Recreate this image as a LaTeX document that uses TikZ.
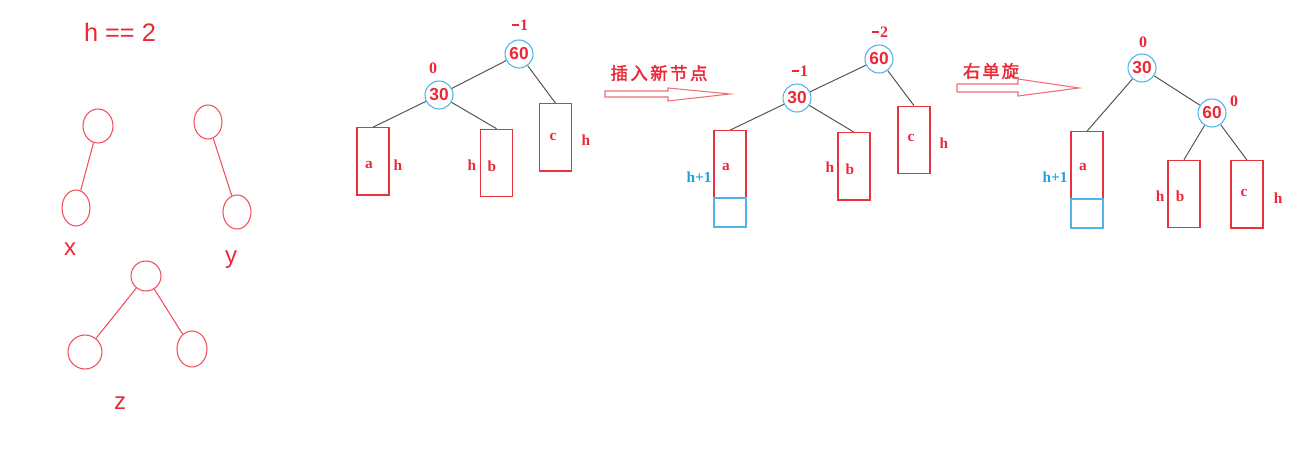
\documentclass[tikz,border=0pt]{standalone}
\usepackage{fontspec}
\setmainfont{Liberation Serif}
\newfontfamily\sansf{Liberation Sans}
\newfontfamily\cjk[FakeBold=2]{Noto Sans CJK SC}
\usetikzlibrary{shapes.geometric}
\pgfdeclarelayer{bg}
\pgfsetlayers{bg,main}
\definecolor{txtred}{RGB}{236,40,56}
\definecolor{boxred}{RGB}{232,50,64}
\definecolor{pinkred}{RGB}{240,80,92}
\definecolor{cblue}{RGB}{80,180,232}
\definecolor{tblue}{RGB}{30,160,226}
\definecolor{edgegray}{RGB}{85,85,85}
\definecolor{arrred}{RGB}{240,110,120}
\tikzset{
  oval/.style={ellipse, draw=pinkred, line width=0.8pt, inner sep=0pt},
  tedge/.style={draw=pinkred, line width=0.8pt},
  bigtxt/.style={text=txtred, font=\sansf\fontsize{19}{19}\selectfont, inner sep=0pt},
  val/.style={circle, draw=cblue, line width=0.8pt, minimum size=21pt, inner sep=0pt,
              text=txtred, font=\sansf\bfseries\fontsize{13}{13}\selectfont},
  sub/.style={rectangle, draw=boxred, line width=1pt, fill=white, minimum width=24pt, minimum height=50.5pt, inner sep=0pt},
  extra/.style={rectangle, draw=cblue, line width=1pt, minimum width=24pt, minimum height=21.75pt, inner sep=0pt},
  lbl/.style={text=txtred, font=\bfseries\fontsize{11.5}{11.5}\selectfont, inner sep=0pt},
  bal/.style={text=txtred, font=\bfseries\fontsize{12}{12}\selectfont, inner sep=0pt},
  hlbl/.style={text=tblue, font=\bfseries\fontsize{11.5}{11.5}\selectfont, inner sep=0pt},
  link/.style={draw=edgegray, line width=0.75pt},
  cjklbl/.style={text=txtred, font=\cjk\fontsize{13}{13}\selectfont, inner sep=0pt},
  blockarrow/.style={draw=arrred, line width=0.8pt, fill=white},
}
\newcommand{\mn}{\raisebox{0.28em}{\rule{0.45em}{0.09em}}\hspace{0.06em}}
\begin{document}
\begin{tikzpicture}[x=0.75pt, y=-0.75pt]
\useasboundingbox (0,0) rectangle (1302,470);
% ---------- left part ----------
\node[bigtxt] (title) at (120,32) {h == 2};
\node[oval, minimum width=22.5pt, minimum height=25.5pt] (xa) at (98,126) {};
\node[oval, minimum width=21pt, minimum height=27pt] (xb) at (76,208) {};
\draw[tedge] (xa) -- (xb);
\node[bigtxt, font=\sansf\fontsize{18}{18}\selectfont] (xl) at (70,249) {x};
\node[oval, minimum width=21pt, minimum height=25.5pt] (ya) at (208,122) {};
\node[oval, minimum width=21pt, minimum height=25.5pt] (yb) at (237,212) {};
\draw[tedge] (ya) -- (yb);
\node[bigtxt, font=\sansf\fontsize{18}{18}\selectfont] (yl) at (231,260) {y};
\node[oval, minimum width=22.5pt, minimum height=22.5pt] (za) at (146,276) {};
\node[oval, minimum width=25.5pt, minimum height=25.5pt] (zb) at (85,352) {};
\node[oval, minimum width=22.5pt, minimum height=27pt] (zc) at (192,349) {};
\draw[tedge] (za) -- (zb);
\draw[tedge] (za) -- (zc);
\node[bigtxt, font=\sansf\fontsize{18}{18}\selectfont] (zl) at (120,403) {z};
% ---------- tree 1 ----------
\node[val] (p60) at (519,54) {60};
\node[val] (p30) at (439,95) {30};
\node[bal] (p60b) at (520,25) {\mn1};
\node[bal] (p30b) at (433,68) {0};
\node[sub] (pa) at (373,161.5) {};
\node[sub] (pb) at (496.5,163) {};
\node[sub] (pc) at (555.5,137.5) {};
\begin{pgfonlayer}{bg}
\draw[link] (p60) -- (p30);
\draw[link] (p30) -- (pa.north);
\draw[link] (p30) -- (pb.north);
\draw[link] (p60) -- (pc.north);
\end{pgfonlayer}
\node[lbl] (pal) at (369,165) {a};
\node[lbl] (pah) at (398,165) {h};
\node[lbl] (pbl) at (492,166) {b};
\node[lbl] (pbh) at (472,165) {h};
\node[lbl] (pcl) at (553,137) {c};
\node[lbl] (pch) at (586,140) {h};
% ---------- arrow 1 ----------
\node[cjklbl] (ins) at (659,73) {插\hspace{1.9pt}入\hspace{1.9pt}新\hspace{1.9pt}节\hspace{1.9pt}点};
\draw[blockarrow] (605,91) -- (668,91) -- (668,88) -- (730,94) -- (668,101) -- (668,97) -- (605,97) -- cycle;
% ---------- tree 2 ----------
\node[val] (q60) at (879,59) {60};
\node[val] (q30) at (797,98) {30};
\node[bal] (q60b) at (880,32) {\mn2};
\node[bal] (q30b) at (800,71) {\mn1};
\node[sub] (qa) at (730,164.5) {};
\node[extra] (qx) at (730,212.5) {};
\node[sub] (qb) at (854,166.5) {};
\node[sub] (qc) at (914,140) {};
\begin{pgfonlayer}{bg}
\draw[link] (q60) -- (q30);
\draw[link] (q30) -- (qa.north);
\draw[link] (q30) -- (qb.north);
\draw[link] (q60) -- (qc.north);
\end{pgfonlayer}
\node[lbl] (qal) at (726,167) {a};
\node[hlbl] (qah) at (699,177) {h+1};
\node[lbl] (qbl) at (850,169) {b};
\node[lbl] (qbh) at (830,167) {h};
\node[lbl] (qcl) at (911,138) {c};
\node[lbl] (qch) at (944,143) {h};
% ---------- arrow 2 ----------
\node[cjklbl] (rot) at (991,71) {右\hspace{1.5pt}单\hspace{1.5pt}旋};
\draw[blockarrow] (957,84) -- (1018,84) -- (1018,79) -- (1079,88) -- (1018,96) -- (1018,92) -- (957,92) -- cycle;
% ---------- tree 3 ----------
\node[val] (r30) at (1142,68) {30};
\node[val] (r60) at (1212,113) {60};
\node[bal] (r30b) at (1143,42) {0};
\node[bal] (r60b) at (1234,101) {0};
\node[sub] (ra) at (1087,165.5) {};
\node[extra] (rx) at (1087,213.5) {};
\node[sub] (rb) at (1184,194) {};
\node[sub] (rc) at (1247,194.5) {};
\begin{pgfonlayer}{bg}
\draw[link] (r30) -- (r60);
\draw[link] (r30) -- (ra.north);
\draw[link] (r60) -- (rb.north);
\draw[link] (r60) -- (rc.north);
\end{pgfonlayer}
\node[lbl] (ral) at (1083,167) {a};
\node[hlbl] (rah) at (1055,177) {h+1};
\node[lbl] (rbl) at (1180,196) {b};
\node[lbl] (rbh) at (1160,196) {h};
\node[lbl] (rcl) at (1244,193) {c};
\node[lbl] (rch) at (1278,198) {h};
\end{tikzpicture}
\end{document}
